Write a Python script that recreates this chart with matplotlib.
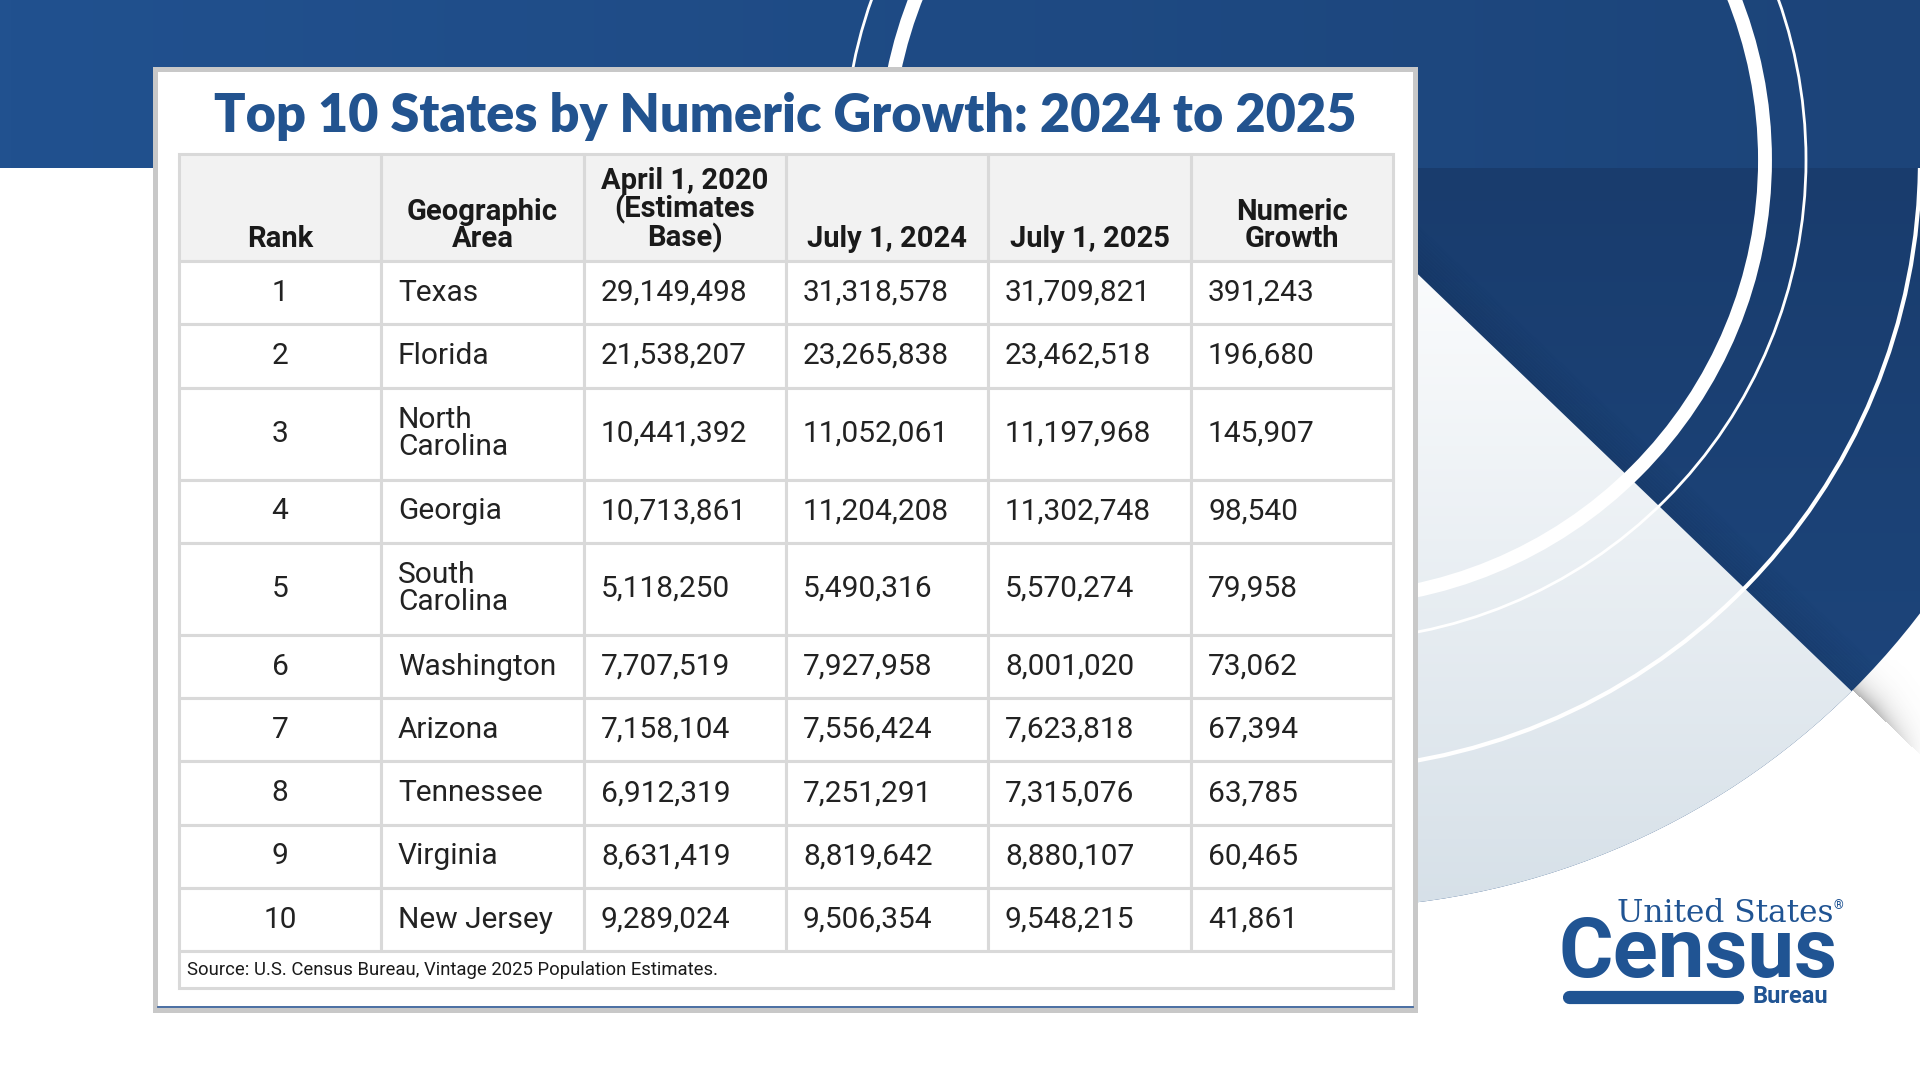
#!/usr/bin/env python3
"""
Top 10 States by Numeric Growth: 2024 to 2025 (tabla estilo Census Bureau).
"""
import numpy as np
import matplotlib
matplotlib.use('Agg')
import matplotlib.pyplot as plt
from matplotlib.patches import Rectangle, Circle, Polygon
from matplotlib.colors import LinearSegmentedColormap

plt.rcParams['font.family'] = ['Roboto', 'DejaVu Sans']

# --- datos ---
title = "Top 10 States by Numeric Growth: 2024 to 2025"
headers = ["Rank", "Geographic\nArea", "April 1, 2020\n(Estimates\nBase)",
           "July 1, 2024", "July 1, 2025", "Numeric\nGrowth"]
ranks = list(range(1, 11))
areas = ["Texas", "Florida", "North\nCarolina", "Georgia", "South\nCarolina",
         "Washington", "Arizona", "Tennessee", "Virginia", "New Jersey"]
base_2020 = [29149498, 21538207, 10441392, 10713861, 5118250,
             7707519, 7158104, 6912319, 8631419, 9289024]
july_2024 = [31318578, 23265838, 11052061, 11204208, 5490316,
             7927958, 7556424, 7251291, 8819642, 9506354]
july_2025 = [31709821, 23462518, 11197968, 11302748, 5570274,
             8001020, 7623818, 7315076, 8880107, 9548215]
growth = [391243, 196680, 145907, 98540, 79958,
          73062, 67394, 63785, 60465, 41861]
source = "Source: U.S. Census Bureau, Vintage 2025 Population Estimates."

# --- layout (pixeles) ---
W, H = 1920, 1080
BLUE = '#22538f'
col_edges = [179, 381, 584, 786, 988, 1191, 1393]
head_top, head_bot = 154, 261
row_h1, row_h2 = 63.3, 92
source_h = 37

fig = plt.figure(figsize=(W / 100, H / 100), dpi=100)
ax = fig.add_axes([0, 0, 1, 1])
ax.set_axis_off()


def gradiente(extent, c0, c1, vertical=True, clip=None, z=0):
    cmap = LinearSegmentedColormap.from_list('g', [c0, c1])
    g = np.linspace(0, 1, 256)
    arr = g[:, None] if vertical else g[None, :]
    im = ax.imshow(arr, cmap=cmap, extent=extent, aspect='auto',
                   zorder=z, interpolation='bicubic')
    if clip is not None:
        clip.set_transform(ax.transData)
        im.set_clip_path(clip)
    return im


# fondo: disco azul con sector gris claro
cx, cy, R = 1325, 160, 748
gradiente((cx - R, cx + R, cy + R, cy - R), '#14305a', '#1e4880',
          clip=Circle((cx, cy), R), z=1)

p0, p1 = np.array([1418., 272.]), np.array([1886., 722.])
d = (p1 - p0) / np.linalg.norm(p1 - p0)
nrm = np.array([d[1], -d[0]])   # hacia arriba-derecha
slope = d[1] / d[0]

# sombra oscura en el lado azul de la diagonal
for k in range(14):
    s = np.array([-300, 700])
    seg = p0[None, :] + s[:, None] * d[None, :] + nrm * (k * 2.5)
    ln, = ax.plot(seg[:, 0], seg[:, 1], color='#081a33', lw=2.2,
                  alpha=0.10 * (1 - k / 14), zorder=1.5, solid_capstyle='butt')
    ln.set_clip_path(Circle((cx, cy), R, transform=ax.transData))

# sombra gris difusa fuera del disco, bajo la punta
gx, gy = np.meshgrid(np.arange(1800, 1921), np.arange(660, 801))
rel = np.stack([gx - p0[0], gy - p0[1]], axis=-1)
s_al = rel @ d
perp = rel @ nrm
a = np.where(perp > 0, np.exp(-perp / 11.0), 0.0)
a *= np.clip((700 - s_al) / 70, 0, 1) * np.clip((s_al - 580) / 20, 0, 1)
sombra = np.zeros(gx.shape + (4,))
sombra[..., :3] = 0.35
sombra[..., 3] = 0.45 * a
ax.imshow(sombra, extent=(1800, 1921, 801, 660), aspect='auto', zorder=0.5,
          interpolation='bilinear')

t = np.linspace(0, 2 * np.pi, 1440, endpoint=False)
pts = np.column_stack([cx + R * np.cos(t), cy + R * np.sin(t)])
mask = pts[:, 1] > p0[1] + slope * (pts[:, 0] - p0[0])
k0 = np.argmin(mask)
pts, mask = np.roll(pts, -k0, axis=0), np.roll(mask, -k0)
gris = Polygon(pts[mask], closed=True)
gradiente((1100, 1920, 910, 260), '#fbfcfd', '#d6e0e8', clip=gris, z=2)

# arco exterior (queda bajo la banda)
arco3 = Circle((1310, 160), 610, fill=False, ec='white', lw=3, zorder=2.5)
ax.add_patch(arco3)
arco3.set_clip_path(Circle((cx, cy), R, transform=ax.transData))

# banda superior
gradiente((0, W, 168, 0), '#21518f', '#1c4479', vertical=False, z=3)

# arcos blancos
ax.add_patch(Circle((1325, 160), 440, fill=False, ec='white', lw=10, zorder=4))
ax.add_patch(Circle((1325, 160), 481, fill=False, ec='white', lw=2, zorder=4))

# tarjeta
ax.add_patch(Rectangle((153, 67), 1265, 946, fc='#c8c8c8', ec='none', zorder=5))
ax.add_patch(Rectangle((158, 72), 1255, 936, fc='white', ec='none', zorder=6))
ax.plot([158, 1413], [1007, 1007], color='#2b5592', lw=1.2, zorder=7)

ax.text(785, 132, title, ha='center', va='baseline', fontsize=37.5,
        fontweight='heavy', color=BLUE, family=['Lato', 'DejaVu Sans'], zorder=8)

# tabla
GRID = '#d9d9d9'
x0, x1 = col_edges[0], col_edges[-1]
ax.add_patch(Rectangle((x0, head_top), x1 - x0, head_bot - head_top,
                       fc='#f2f2f2', ec='none', zorder=7))
for i, h in enumerate(headers):
    xa, xb = col_edges[i], col_edges[i + 1]
    ax.add_patch(Rectangle((xa, head_top), xb - xa, head_bot - head_top,
                           fc='none', ec=GRID, lw=2.2, zorder=8))
    ax.text((xa + xb) / 2, head_bot - 8, h, ha='center', va='bottom',
            fontsize=21, fontweight='bold', color='#1a1a1a',
            linespacing=0.95, zorder=9)

filas = zip(ranks, areas, base_2020, july_2024, july_2025, growth)
y = head_bot
for rk, area, b20, j24, j25, gr in filas:
    rh = row_h2 if '\n' in area else row_h1
    valores = [str(rk), area, f"{b20:,}", f"{j24:,}", f"{j25:,}", f"{gr:,}"]
    for i, v in enumerate(valores):
        xa, xb = col_edges[i], col_edges[i + 1]
        ax.add_patch(Rectangle((xa, y), xb - xa, rh, fc='white', ec=GRID,
                               lw=2.2, zorder=8))
        if i == 0:
            ax.text((xa + xb) / 2, y + rh / 2, v, ha='center', va='center',
                    fontsize=21.5, color='#222222', zorder=9)
        else:
            ax.text(xa + 17, y + rh / 2, v, ha='left', va='center',
                    fontsize=21.5, color='#222222', linespacing=0.95, zorder=9)
    y += rh

ax.add_patch(Rectangle((x0, y), x1 - x0, source_h, fc='white', ec=GRID,
                       lw=2.2, zorder=8))
ax.text(x0 + 8, y + source_h / 2, source, ha='left', va='center',
        fontsize=13.3, color='#1a1a1a', zorder=9)

# logo
LOGO = '#205493'
ax.text(1617, 922, "United States", ha='left', va='baseline', fontsize=22.5,
        color=LOGO, family=['DejaVu Serif'], zorder=9)
ax.text(1834, 909, "®", ha='left', va='baseline', fontsize=9, color=LOGO,
        zorder=9)
ax.text(1559, 977, "Census", ha='left', va='baseline', fontsize=60,
        fontweight='bold', color=LOGO, zorder=9)
ax.plot([1569, 1737], [996.5, 996.5], color=LOGO, lw=9.5,
        solid_capstyle='round', zorder=9)
ax.text(1752, 1003, "Bureau", ha='left', va='baseline', fontsize=17,
        fontweight='bold', color=LOGO, zorder=9)

ax.set_xlim(0, W)
ax.set_ylim(H, 0)
fig.savefig('out.png', dpi=100, facecolor='white')
